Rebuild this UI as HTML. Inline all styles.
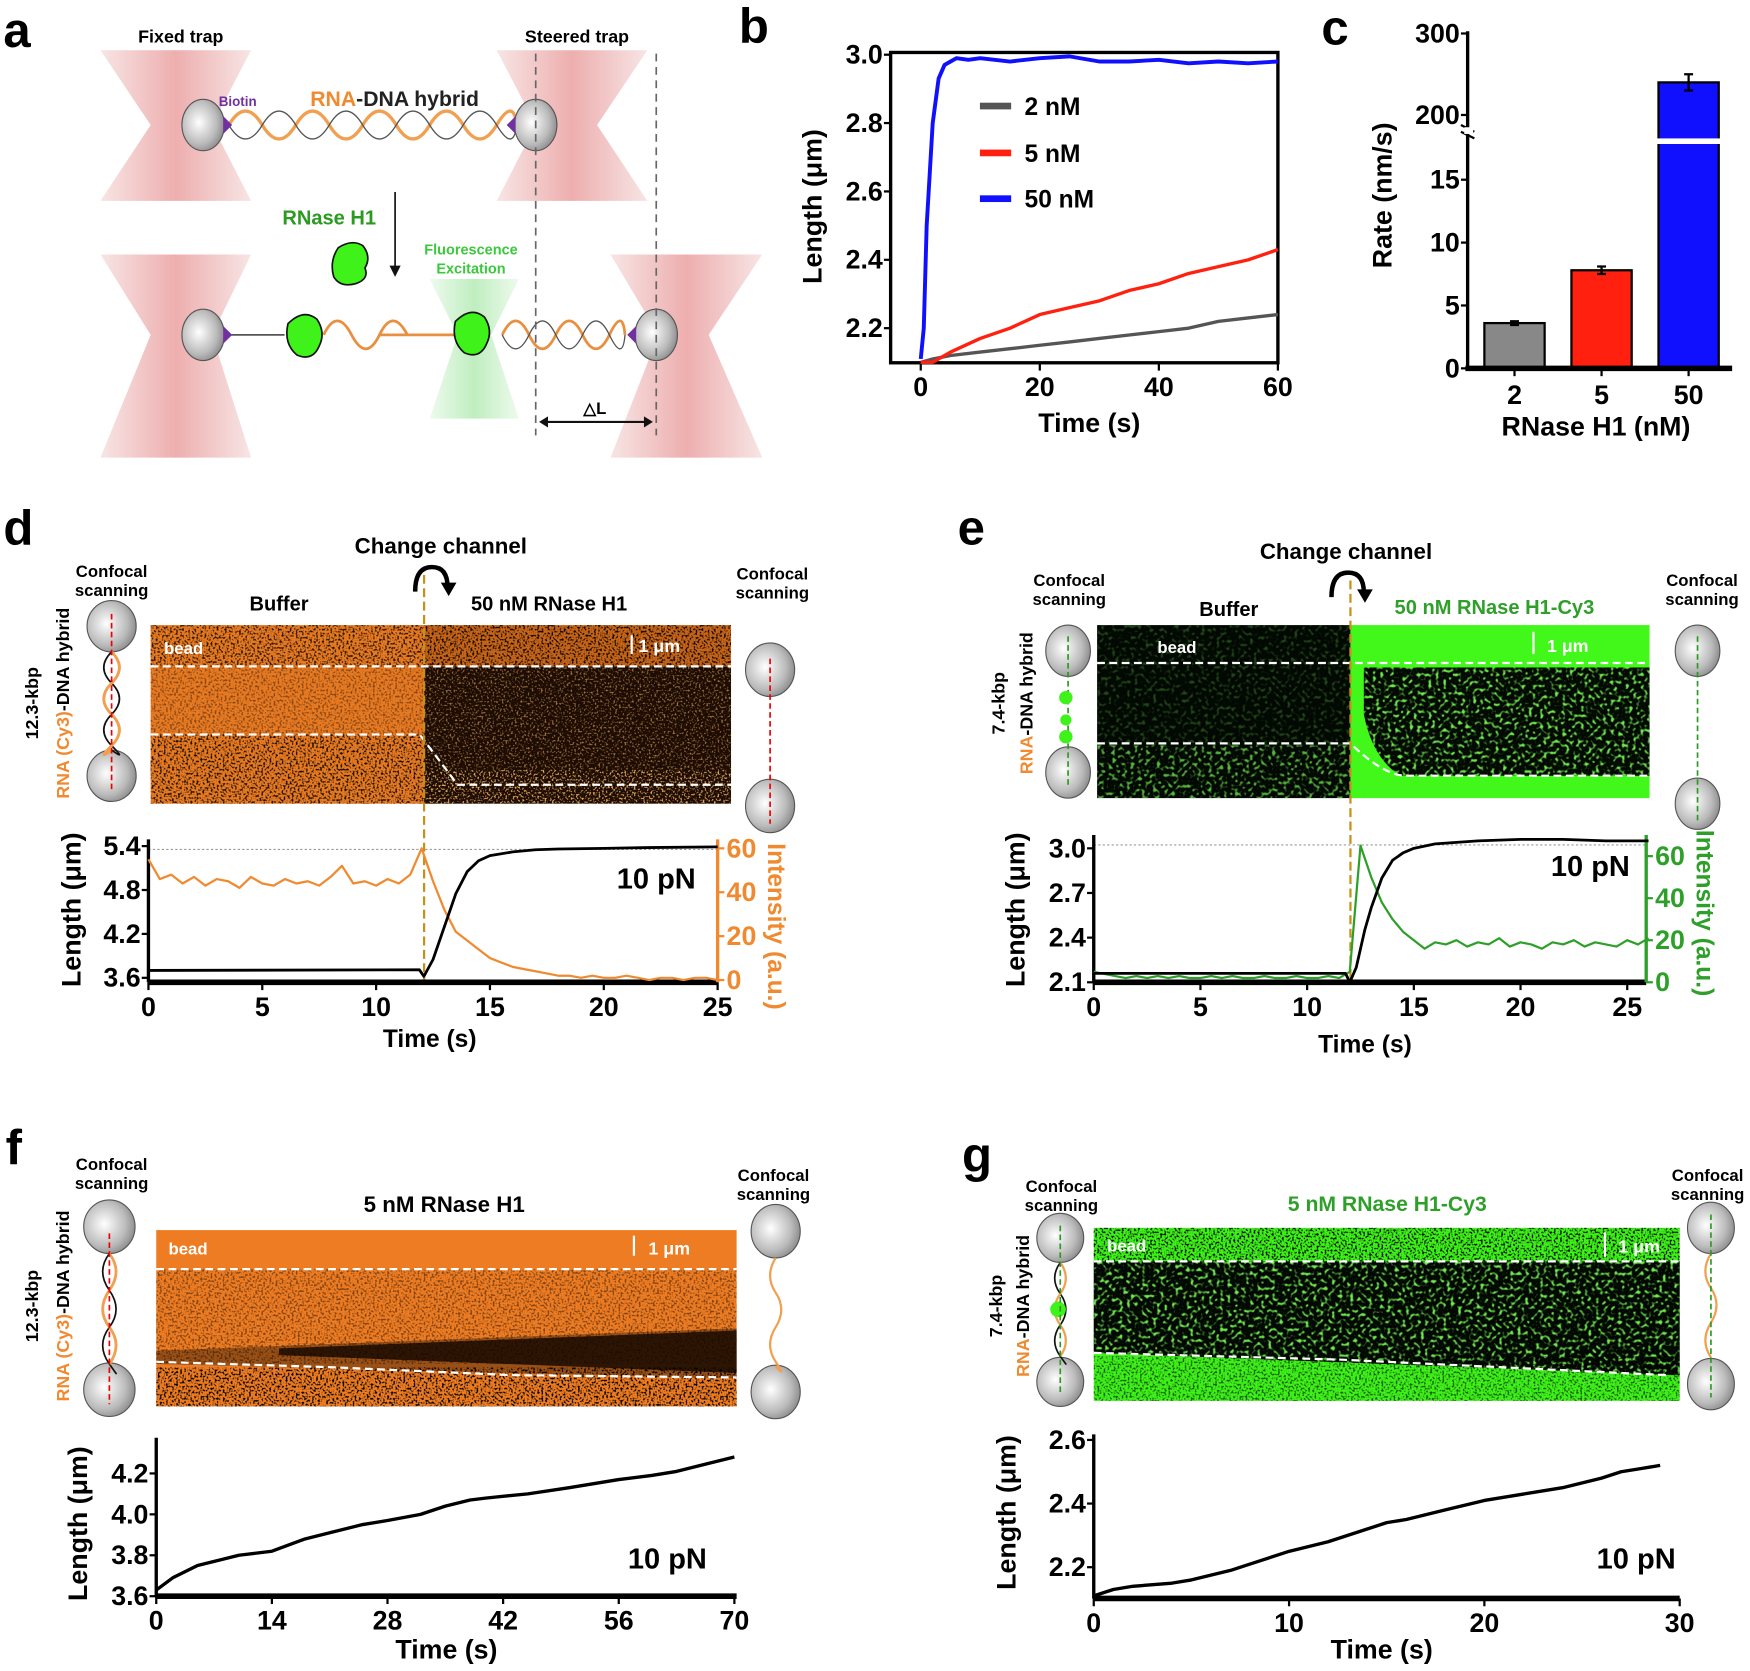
<!DOCTYPE html>
<html><head><meta charset="utf-8"><style>
html,body{margin:0;padding:0;background:#fff}
svg{display:block}
text{font-family:"Liberation Sans",sans-serif;font-weight:bold}
</style></head><body>
<svg id="fig" width="1750" height="1671" viewBox="0 0 1568 1497" preserveAspectRatio="none" xmlns="http://www.w3.org/2000/svg">
<defs>
<radialGradient id="bead" cx="0.4" cy="0.45" r="0.7"><stop offset="0" stop-color="#fff"/><stop offset="0.6" stop-color="#bbb"/><stop offset="1" stop-color="#777"/></radialGradient>
<linearGradient id="beam" x1="0" y1="0" x2="1" y2="0"><stop offset="0" stop-color="#f6dede"/><stop offset="0.5" stop-color="#e99a9a"/><stop offset="1" stop-color="#f6dede"/></linearGradient>
<linearGradient id="gbeam" x1="0" y1="0" x2="1" y2="0"><stop offset="0" stop-color="#eefaee"/><stop offset="0.5" stop-color="#bfeebf"/><stop offset="1" stop-color="#eefaee"/></linearGradient>
<filter id="blackSpeck" x="0" y="0" width="1" height="1"><feTurbulence type="fractalNoise" baseFrequency="0.55" numOctaves="1" seed="3"/><feColorMatrix values="0 0 0 0 0  0 0 0 0 0  0 0 0 0 0  5 0 0 0 -2.4"/><feComposite in2="SourceGraphic" operator="in"/></filter>
<filter id="orangeSpeck" x="0" y="0" width="1" height="1"><feTurbulence type="fractalNoise" baseFrequency="0.6" numOctaves="1" seed="7"/><feColorMatrix values="0 0 0 0 0.91  0 0 0 0 0.47  0 0 0 0 0.13  5 0 0 0 -2.6"/><feComposite in2="SourceGraphic" operator="in"/></filter>
<filter id="greenSpeck" x="0" y="0" width="1" height="1"><feTurbulence type="fractalNoise" baseFrequency="0.3" numOctaves="1" seed="5"/><feColorMatrix values="0 0 0 0 0.2  0 0 0 0 1  0 0 0 0 0.1  5 0 0 0 -2.6"/><feComposite in2="SourceGraphic" operator="in"/></filter>
</defs>

<g font-size="44">
<text x="3" y="42">a</text>
<text x="662" y="38">b</text>
<text x="1184" y="40">c</text>
<text x="3" y="488">d</text>
<text x="858" y="488">e</text>
<text x="5" y="1043">f</text>
<text x="862" y="1050">g</text>
</g>

<g>
<text x="162" y="38" font-size="16" text-anchor="middle">Fixed trap</text>
<text x="517" y="38" font-size="16" text-anchor="middle">Steered trap</text>
<path d="M90 45 H225 L190 112 L225 180 H90 L135 112 Z" fill="url(#beam)" opacity="0.8"/>
<path d="M445 45 H580 L535 112 L580 180 H445 L480 112 Z" fill="url(#beam)" opacity="0.8"/>
<path d="M90 228 H225 L190 300 L225 410 H90 L135 300 Z" fill="url(#beam)" opacity="0.8"/>
<path d="M547 228 H683 L635 300 L683 410 H547 L590 300 Z" fill="url(#beam)" opacity="0.8"/>
<path d="M385 250 H465 L440 300 L465 375 H385 L410 300 Z" fill="url(#gbeam)"/>
<path d="M205 112 q15 -25 30 0 t30 0 t30 0 t30 0 t30 0 t30 0 t30 0 t30 0 t18 0" fill="none" stroke="#f0a050" stroke-width="3"/>
<path d="M205 112 q15 25 30 0 t30 0 t30 0 t30 0 t30 0 t30 0 t30 0 t30 0 t18 0" fill="none" stroke="#555" stroke-width="1.2"/>
<ellipse cx="182" cy="112" rx="19" ry="23" fill="url(#bead)" stroke="#555"/>
<ellipse cx="480" cy="112" rx="19" ry="23" fill="url(#bead)" stroke="#555"/>
<path d="M200 104 l8 8 -8 8z M462 104 l-8 8 8 8z" fill="#7030a0"/>
<text x="213" y="95" font-size="12" fill="#7030a0" text-anchor="middle">Biotin</text>
<text x="278" y="95" font-size="19" fill="#f08a30">RNA<tspan fill="#222">-DNA hybrid</tspan></text>
<line x1="354" y1="172" x2="354" y2="245" stroke="#111" stroke-width="1.5"/>
<path d="M349 238 l5 10 5 -10z" fill="#111"/>
<text x="295" y="201" font-size="18" fill="#2a9a20" text-anchor="middle">RNase H1</text>
<path d="M303 222 q12 -8 22 -2 q8 10 2 20 q4 10 -8 14 q-14 4 -20 -6 q-4 -14 4 -26z" fill="#3ef21a" stroke="#111" stroke-width="1.5"/>
<text x="422" y="228" font-size="13" fill="#3cc83c" text-anchor="middle">Fluorescence</text>
<text x="422" y="245" font-size="13" fill="#3cc83c" text-anchor="middle">Excitation</text>
<path d="M205 300 h50" stroke="#555" stroke-width="1.5"/>
<path d="M290 300 q12 -25 25 0 t25 0 t25 0 M340 300 h70" fill="none" stroke="#e89040" stroke-width="2.5"/>
<path d="M450 300 q12 -25 24 0 t24 0 t24 0 t24 0 t14 0" fill="none" stroke="#e89040" stroke-width="2.5"/>
<path d="M450 300 q12 25 24 0 t24 0 t24 0 t24 0 t14 0" fill="none" stroke="#555" stroke-width="1.2"/>
<path d="M258 290 q14 -14 26 -4 q8 12 2 24 q-6 14 -20 8 q-12 -10 -8 -28z" fill="#3ef21a" stroke="#111" stroke-width="1.5"/>
<path d="M408 288 q14 -14 26 -4 q8 12 2 24 q-6 14 -20 8 q-12 -10 -8 -28z" fill="#3ef21a" stroke="#111" stroke-width="1.5"/>
<ellipse cx="182" cy="300" rx="19" ry="23" fill="url(#bead)" stroke="#555"/>
<ellipse cx="588" cy="300" rx="19" ry="23" fill="url(#bead)" stroke="#555"/>
<path d="M200 292 l8 8 -8 8z M570 292 l-8 8 8 8z" fill="#7030a0"/>
<line x1="480" y1="48" x2="480" y2="390" stroke="#666" stroke-width="1.5" stroke-dasharray="7,5"/>
<line x1="588" y1="48" x2="588" y2="390" stroke="#666" stroke-width="1.5" stroke-dasharray="7,5"/>
<line x1="486" y1="378" x2="582" y2="378" stroke="#111" stroke-width="2"/>
<path d="M483 378 l8 -5 v10z M585 378 l-8 -5 v10z" fill="#111"/>
<text x="533" y="371" font-size="15" font-weight="normal" text-anchor="middle">△L</text>
</g>

<g id="pb">
<rect x="798" y="47" width="347" height="278" fill="none" stroke="#000" stroke-width="3"/>
<text transform="translate(736,185) rotate(-90)" font-size="24" text-anchor="middle">Length (μm)</text>
<text x="976" y="387" font-size="24" text-anchor="middle">Time (s)</text>
</g>
<g id="pc">
<text transform="translate(1247,175) rotate(-90)" font-size="24" text-anchor="middle">Rate (nm/s)</text>
<text x="1430" y="390" font-size="24" text-anchor="middle">RNase H1 (nM)</text>
</g>

<g>
<text x="100" y="517" font-size="15" text-anchor="middle">Confocal</text>
<text x="100" y="534" font-size="15" text-anchor="middle">scanning</text>
<text x="692" y="519" font-size="15" text-anchor="middle">Confocal</text>
<text x="692" y="536" font-size="15" text-anchor="middle">scanning</text>
<text x="395" y="496" font-size="20" text-anchor="middle">Change channel</text>
<path d="M372 530 q0 -22 15 -22 q14 0 14 18" fill="none" stroke="#000" stroke-width="4"/>
<path d="M395 522 l7 12 7 -12z" fill="#000"/>
<text x="250" y="547" font-size="18" text-anchor="middle">Buffer</text>
<text x="492" y="547" font-size="18" text-anchor="middle">50 nM RNase H1</text>
<text transform="translate(34,630) rotate(-90)" font-size="16" text-anchor="middle">12.3-kbp</text>
<text transform="translate(62,630) rotate(-90)" font-size="16" text-anchor="middle"><tspan fill="#f08a30">RNA (Cy3)</tspan>-DNA hybrid</text>
<rect x="135" y="560" width="245" height="160" fill="#e87a22"/>
<rect x="135" y="560" width="245" height="37" fill="#000" filter="url(#blackSpeck)" opacity="0.8"/>
<rect x="135" y="597" width="245" height="61" fill="#000" filter="url(#blackSpeck)" opacity="0.4"/>
<rect x="135" y="658" width="245" height="62" fill="#000" filter="url(#blackSpeck)" opacity="0.85"/>
<rect x="380" y="560" width="275" height="37" fill="#c86518"/>
<rect x="380" y="560" width="275" height="37" fill="#000" filter="url(#blackSpeck)" opacity="0.9"/>
<rect x="380" y="597" width="275" height="123" fill="#1c0b02"/>
<rect x="380" y="597" width="275" height="123" filter="url(#orangeSpeck)" fill="#000" opacity="0.6"/>
<rect x="380" y="690" width="275" height="30" filter="url(#orangeSpeck)" fill="#000" opacity="0.8"/>
<line x1="135" y1="597" x2="655" y2="597" stroke="#fff" stroke-width="2" stroke-dasharray="7,4"/>
<path d="M135 658 H376 L410 703 H655" fill="none" stroke="#fff" stroke-width="2" stroke-dasharray="7,4"/>
<text x="147" y="586" font-size="15" fill="#fff">bead</text>
<line x1="566" y1="569" x2="566" y2="586" stroke="#fff" stroke-width="2"/>
<text x="572" y="584" font-size="16" fill="#fff">1 μm</text>
<g stroke="#555"><ellipse cx="100" cy="561" rx="22" ry="23" fill="url(#bead)"/><ellipse cx="100" cy="695" rx="22" ry="23" fill="url(#bead)"/><ellipse cx="690" cy="600" rx="22" ry="24" fill="url(#bead)"/><ellipse cx="690" cy="722" rx="22" ry="24" fill="url(#bead)"/></g>
<path d="M100 584 q-14 14 0 28 t0 28 t0 28 t0 4" fill="none" stroke="#111" stroke-width="1.5"/>
<path d="M100 584 q14 14 0 28 t0 28 t0 28 t0 4" fill="none" stroke="#f0a050" stroke-width="2.5"/>
<line x1="100" y1="550" x2="100" y2="710" stroke="#e00" stroke-width="1.5" stroke-dasharray="5,3"/>
<line x1="690" y1="590" x2="690" y2="738" stroke="#e00" stroke-width="1.5" stroke-dasharray="5,3"/>
<line x1="380" y1="515" x2="380" y2="880" stroke="#c8901a" stroke-width="2" stroke-dasharray="8,4"/>
</g>
<g id="pd">
<text transform="translate(72,815) rotate(-90)" font-size="24" text-anchor="middle">Length (μm)</text>
<text transform="translate(688,830) rotate(90)" font-size="22" fill="#f08a30" text-anchor="middle">Intensity (a.u.)</text>
<text x="385" y="938" font-size="22" text-anchor="middle">Time (s)</text>
<text x="588" y="796" font-size="26" text-anchor="middle">10 pN</text>
</g>

<g>
<text x="958" y="525" font-size="15" text-anchor="middle">Confocal</text>
<text x="958" y="542" font-size="15" text-anchor="middle">scanning</text>
<text x="1525" y="525" font-size="15" text-anchor="middle">Confocal</text>
<text x="1525" y="542" font-size="15" text-anchor="middle">scanning</text>
<text x="1206" y="501" font-size="20" text-anchor="middle">Change channel</text>
<path d="M1193 535 q0 -22 15 -22 q14 0 14 18" fill="none" stroke="#000" stroke-width="4"/>
<path d="M1216 528 l7 12 7 -12z" fill="#000"/>
<text x="1101" y="552" font-size="18" text-anchor="middle">Buffer</text>
<text x="1339" y="550" font-size="18" fill="#2ea02a" text-anchor="middle">50 nM RNase H1-Cy3</text>
<text transform="translate(900,630) rotate(-90)" font-size="16" text-anchor="middle">7.4-kbp</text>
<text transform="translate(925,630) rotate(-90)" font-size="16" text-anchor="middle"><tspan fill="#f08a30">RNA</tspan>-DNA hybrid</text>
<rect x="983" y="560" width="227" height="155" fill="#020802"/>
<rect x="983" y="560" width="227" height="155" fill="#000" filter="url(#greenSpeck)" opacity="0.25"/>
<rect x="983" y="668" width="227" height="47" fill="#000" filter="url(#greenSpeck)" opacity="0.6"/>
<rect x="1210" y="560" width="268" height="155" fill="#41f81a"/>
<path d="M1222 598 H1478 V695 H1255 Q1230 680 1222 640 Z" fill="#020a02"/>
<path d="M1222 598 H1478 V695 H1255 Q1230 680 1222 640 Z" fill="#000" filter="url(#greenSpeck)" opacity="0.9"/>
<line x1="983" y1="594" x2="1478" y2="594" stroke="#fff" stroke-width="2" stroke-dasharray="7,4"/>
<path d="M983 666 H1210 Q1240 695 1260 695 H1478" fill="none" stroke="#fff" stroke-width="2" stroke-dasharray="7,4"/>
<text x="1037" y="585" font-size="15" fill="#fff">bead</text>
<line x1="1374" y1="566" x2="1374" y2="586" stroke="#fff" stroke-width="2"/>
<text x="1386" y="584" font-size="16" fill="#fff">1 μm</text>
<g stroke="#555"><ellipse cx="957" cy="583" rx="20" ry="23" fill="url(#bead)"/><ellipse cx="957" cy="692" rx="20" ry="23" fill="url(#bead)"/><ellipse cx="1521" cy="583" rx="20" ry="23" fill="url(#bead)"/><ellipse cx="1521" cy="720" rx="20" ry="23" fill="url(#bead)"/></g>
<line x1="957" y1="570" x2="957" y2="705" stroke="#2a9a20" stroke-width="1.5" stroke-dasharray="5,3"/>
<line x1="1521" y1="570" x2="1521" y2="735" stroke="#2a9a20" stroke-width="1.5" stroke-dasharray="5,3"/>
<circle cx="955" cy="625" r="6" fill="#3ef21a"/><circle cx="955" cy="660" r="6" fill="#3ef21a"/><circle cx="955" cy="645" r="5" fill="#3ef21a"/>
<line x1="1210" y1="520" x2="1210" y2="880" stroke="#c8901a" stroke-width="2" stroke-dasharray="8,4"/>
</g>
<g id="pe">
<text transform="translate(918,815) rotate(-90)" font-size="24" text-anchor="middle">Length (μm)</text>
<text transform="translate(1520,818) rotate(90)" font-size="22" fill="#2ea02a" text-anchor="middle">Intensity (a.u.)</text>
<text x="1223" y="943" font-size="22" text-anchor="middle">Time (s)</text>
<text x="1425" y="785" font-size="26" text-anchor="middle">10 pN</text>
</g>

<g>
<text x="100" y="1048" font-size="15" text-anchor="middle">Confocal</text>
<text x="100" y="1065" font-size="15" text-anchor="middle">scanning</text>
<text x="693" y="1058" font-size="15" text-anchor="middle">Confocal</text>
<text x="693" y="1075" font-size="15" text-anchor="middle">scanning</text>
<text x="398" y="1086" font-size="20" text-anchor="middle">5 nM RNase H1</text>
<text transform="translate(34,1170) rotate(-90)" font-size="16" text-anchor="middle">12.3-kbp</text>
<text transform="translate(62,1170) rotate(-90)" font-size="16" text-anchor="middle"><tspan fill="#f08a30">RNA (Cy3)</tspan>-DNA hybrid</text>
<rect x="140" y="1102" width="520" height="158" fill="#ee7c22"/>
<rect x="140" y="1137" width="520" height="85" fill="#000" filter="url(#blackSpeck)" opacity="0.45"/>
<path d="M140 1210 L660 1190 V1235 L140 1222Z" fill="#000" opacity="0.35"/>
<path d="M250 1208 L660 1192 V1230 L250 1214Z" fill="#120600" opacity="0.8"/>
<rect x="140" y="1225" width="520" height="35" fill="#000" filter="url(#blackSpeck)" opacity="0.95"/>
<line x1="140" y1="1137" x2="660" y2="1137" stroke="#fff" stroke-width="2" stroke-dasharray="7,4"/>
<path d="M140 1220 L300 1225 L460 1232 L660 1234" fill="none" stroke="#fff" stroke-width="2" stroke-dasharray="7,4"/>
<text x="151" y="1124" font-size="15" fill="#fff">bead</text>
<line x1="568" y1="1107" x2="568" y2="1125" stroke="#fff" stroke-width="2"/>
<text x="581" y="1124" font-size="16" fill="#fff">1 μm</text>
<g stroke="#555"><ellipse cx="98" cy="1099" rx="23" ry="24" fill="url(#bead)"/><ellipse cx="98" cy="1245" rx="23" ry="24" fill="url(#bead)"/><ellipse cx="695" cy="1103" rx="22" ry="24" fill="url(#bead)"/><ellipse cx="695" cy="1247" rx="22" ry="24" fill="url(#bead)"/></g>
<path d="M98 1123 q-12 16 0 33 t0 33 t0 33 t0 0" fill="none" stroke="#111" stroke-width="1.5"/>
<path d="M98 1123 q12 16 0 33 t0 33 t0 33" fill="none" stroke="#f0a050" stroke-width="2.5"/>
<path d="M695 1127 q-10 16 0 31 t0 31 t0 31 t0 4" fill="none" stroke="#f0a050" stroke-width="2"/>
<line x1="98" y1="1105" x2="98" y2="1258" stroke="#e00" stroke-width="1.5" stroke-dasharray="5,3"/>
</g>
<g id="pf">
<text transform="translate(78,1365) rotate(-90)" font-size="24" text-anchor="middle">Length (μm)</text>
<text x="400" y="1486" font-size="24" text-anchor="middle">Time (s)</text>
<text x="598" y="1405" font-size="26" text-anchor="middle">10 pN</text>
</g>

<g>
<text x="951" y="1068" font-size="15" text-anchor="middle">Confocal</text>
<text x="951" y="1085" font-size="15" text-anchor="middle">scanning</text>
<text x="1530" y="1058" font-size="15" text-anchor="middle">Confocal</text>
<text x="1530" y="1075" font-size="15" text-anchor="middle">scanning</text>
<text x="1243" y="1085" font-size="19" fill="#2ea02a" text-anchor="middle">5 nM RNase H1-Cy3</text>
<text transform="translate(898,1170) rotate(-90)" font-size="16" text-anchor="middle">7.4-kbp</text>
<text transform="translate(922,1170) rotate(-90)" font-size="16" text-anchor="middle"><tspan fill="#f08a30">RNA</tspan>-DNA hybrid</text>
<rect x="980" y="1100" width="525" height="155" fill="#3ef21a"/>
<rect x="980" y="1100" width="525" height="30" fill="#000" filter="url(#blackSpeck)" opacity="0.9"/>
<path d="M980 1130 H1505 V1232 L980 1212Z" fill="#020802"/>
<path d="M980 1130 H1505 V1232 L980 1212Z" fill="#000" filter="url(#greenSpeck)" opacity="0.9"/>
<rect x="980" y="1215" width="525" height="40" fill="#000" filter="url(#blackSpeck)" opacity="0.6"/>
<line x1="980" y1="1130" x2="1505" y2="1130" stroke="#fff" stroke-width="2" stroke-dasharray="7,4"/>
<path d="M980 1212 L1200 1218 L1495 1232" fill="none" stroke="#fff" stroke-width="2" stroke-dasharray="7,4"/>
<text x="992" y="1121" font-size="15" fill="#fff">bead</text>
<line x1="1438" y1="1104" x2="1438" y2="1126" stroke="#fff" stroke-width="2"/>
<text x="1450" y="1122" font-size="16" fill="#fff">1 μm</text>
<g stroke="#555"><ellipse cx="950" cy="1109" rx="21" ry="22" fill="url(#bead)"/><ellipse cx="950" cy="1238" rx="21" ry="22" fill="url(#bead)"/><ellipse cx="1533" cy="1100" rx="21" ry="23" fill="url(#bead)"/><ellipse cx="1533" cy="1240" rx="21" ry="23" fill="url(#bead)"/></g>
<path d="M950 1131 q-10 14 0 28 t0 28 t0 28 t0 0" fill="none" stroke="#111" stroke-width="1.5"/>
<path d="M950 1131 q10 14 0 28 t0 28 t0 28" fill="none" stroke="#f0a050" stroke-width="2"/>
<path d="M1533 1123 q-10 16 0 31 t0 31 t0 31" fill="none" stroke="#f0a050" stroke-width="2"/>
<circle cx="948" cy="1173" r="7" fill="#3ef21a"/>
<line x1="950" y1="1098" x2="950" y2="1250" stroke="#2a9a20" stroke-width="1.5" stroke-dasharray="5,3"/>
<line x1="1533" y1="1088" x2="1533" y2="1252" stroke="#2a9a20" stroke-width="1.5" stroke-dasharray="5,3"/>
</g>
<g id="pg">
<text transform="translate(910,1355) rotate(-90)" font-size="24" text-anchor="middle">Length (μm)</text>
<text x="1238" y="1486" font-size="24" text-anchor="middle">Time (s)</text>
<text x="1466" y="1405" font-size="26" text-anchor="middle">10 pN</text>
</g>
</svg>
<script>
// ---- Panel b data ----
const bBlueT=[0,0.5,1,2,3,4,5,6,8,10,15,20,25,30,35,40,45,50,55,60];
const bBlueL=[2.11,2.2,2.5,2.8,2.93,2.97,2.98,2.99,2.985,2.99,2.98,2.99,2.995,2.98,2.98,2.985,2.975,2.98,2.975,2.98];
const bT=[0,2,5,10,15,20,25,30,35,40,45,50,55,60];
const bRedL=[2.1,2.1,2.13,2.17,2.2,2.24,2.26,2.28,2.31,2.33,2.36,2.38,2.4,2.43];
const bGrayL=[2.1,2.11,2.12,2.13,2.14,2.15,2.16,2.17,2.18,2.19,2.2,2.22,2.23,2.24];
const bYTicks=[3.0,2.8,2.6,2.4,2.2];
const bXTicks=[0,20,40,60];
// ---- Panel c data ----
const cCats=["2","5","50"];
const cRates=[3.6,7.8,240];
const cErr=[0.15,0.3,10];
const cYTicksLow=[0,5,10,15];
const cYTicksHigh=[200,300];
// ---- Panel d data ----
const dLenT=[0,11.9,12.1,12.5,13,13.5,14,14.5,15,16,17,18,20,22,25];
const dLen=[3.7,3.71,3.62,3.85,4.3,4.75,5.05,5.2,5.27,5.32,5.35,5.36,5.37,5.38,5.39];
const dInt=[55,46,48,44,47,43,46,45,42,47,44,43,46,44,45,43,47,52,44,45,43,46,44,48,60,45,32,22,18,14,10,8,6,5,4,3,2,2,1,2,1,1,2,1,0,1,1,0,1,1,0];
const dYTicks=[5.4,4.8,4.2,3.6];
const dY2Ticks=[60,40,20,0];
const dXTicks=[0,5,10,15,20,25];
// ---- Panel e data ----
const eLenT=[0,11.8,12,12.3,12.7,13,13.5,14,14.5,15,16,18,20,22,24,26];
const eLen=[2.16,2.16,2.1,2.2,2.45,2.6,2.8,2.92,2.97,3.0,3.03,3.05,3.06,3.06,3.05,3.05];
const eInt=[5,4,3,2,3,2,3,2,3,2,2,3,2,3,2,2,3,2,2,3,2,2,3,2,5,65,50,38,30,24,20,16,19,18,20,17,19,18,21,17,19,18,16,19,18,20,17,19,18,17,20,18,21];
const eYTicks=[3.0,2.7,2.4,2.1];
const eY2Ticks=[60,40,20,0];
const eXTicks=[0,5,10,15,20,25];
// ---- Panel f data ----
const fT=[0,2,5,8,10,12,14,16,18,21,25,28,32,35,38,40,45,50,56,60,63,67,70];
const fLen=[3.63,3.69,3.75,3.78,3.8,3.81,3.82,3.85,3.88,3.91,3.95,3.97,4.0,4.04,4.07,4.08,4.1,4.13,4.17,4.19,4.21,4.25,4.28];
const fYTicks=[4.2,4.0,3.8,3.6];
const fXTicks=[0,14,28,42,56,70];
// ---- Panel g data ----
const gT=[0,1,2,4,5,7,8,10,12,13,15,16,18,20,22,24,26,27,28,29];
const gLen=[2.11,2.13,2.14,2.15,2.16,2.19,2.21,2.25,2.28,2.3,2.34,2.35,2.38,2.41,2.43,2.45,2.48,2.5,2.51,2.52];
const gYTicks=[2.6,2.4,2.2];
const gXTicks=[0,10,20,30];

const NS="http://www.w3.org/2000/svg";
function mk(parent,tag,attrs){const e=document.createElementNS(NS,tag);for(const k in attrs)e.setAttribute(k,attrs[k]);parent.appendChild(e);return e;}
function lin(d0,d1,r0,r1){return v=>r0+(v-d0)*(r1-r0)/(d1-d0);}
function pathD(xs,ys,sx,sy){return xs.map((x,i)=>(i?"L":"M")+sx(x).toFixed(1)+" "+sy(ys[i]).toFixed(1)).join(" ");}
function fmt(v,ticks){return ticks.some(q=>q%1!==0)?v.toFixed(1):String(v);}
function yTicks(g,ticks,sy,x,fs,color,right){
  ticks.forEach(v=>{const y=sy(v);
    const l=mk(g,"line",{x1:x,x2:right?x+6:x-6,y1:y,y2:y,stroke:color,"stroke-width":2});
    
    
    const t=mk(g,"text",{x:right?x+8:x-7,y:y+8,"font-size":fs,fill:color,"text-anchor":right?"start":"end"});
    t.textContent=fmt(v,ticks);
    
    });
}
function xTicks(g,ticks,sx,y,fs){
  ticks.forEach(v=>{const x=sx(v);
    const l=mk(g,"line",{x1:x,x2:x,y1:y,y2:y+7,stroke:"#000","stroke-width":2});
    
    
    const t=mk(g,"text",{x:x,y:y+30,"font-size":fs,"text-anchor":"middle"});
    t.textContent=v;
    
    });
}
function line(g,xs,ys,sx,sy,color,w,name){
  const p=mk(g,"path",{d:pathD(xs,ys,sx,sy),fill:"none",stroke:color,"stroke-width":w,"stroke-linejoin":"round"});
  
  
  return p;
}
function axes(g,x0,x1,y0,y1){
  mk(g,"line",{x1:x0,x2:x0,y1:y0,y2:y1,stroke:"#000","stroke-width":3});
  const b=mk(g,"line",{x1:x0,x2:x1,y1:y1,y2:y1,stroke:"#000","stroke-width":5});
  
  
}

{const g=document.getElementById('pb');
 const sx=lin(0,60,825,1145), sy=lin(3.0,2.2,49,294);
 yTicks(g,bYTicks,sy,798,24,"#000");
 xTicks(g,bXTicks,sx,325,24);
 line(g,bT,bGrayL,sx,sy,"#555",3,"series-2nM");
 line(g,bT,bRedL,sx,sy,"#ff2010",3,"series-5nM");
 line(g,bBlueT,bBlueL,sx,sy,"#1010ff",3.5,"series-50nM");
 const leg=[["2 nM","#555",103],["5 nM","#ff2010",145],["50 nM","#1010ff",186]];
 leg.forEach(([lab,c,y])=>{const r=mk(g,"rect",{x:878,y:y-11,width:28,height:6,fill:c});
   
   
   const t=mk(g,"text",{x:918,y:y,"font-size":22});t.textContent=lab;
   
   });
}
{const g=document.getElementById('pc');
 const syLow=lin(0,15,330,161), syHigh=lin(200,300,103,30);
 const sy=v=>v<=18?syLow(v):syHigh(v);
 const colors=["#888","#ff2010","#1010ff"], xs=[1357,1435,1513];
 cRates.forEach((v,i)=>{const r=mk(g,"rect",{x:xs[i]-27,y:sy(v),width:54,height:330-sy(v),fill:colors[i],stroke:"#000","stroke-width":2});
   
   
   const e=mk(g,"path",{d:`M${xs[i]} ${sy(v+cErr[i])} V${sy(v-cErr[i])} M${xs[i]-4} ${sy(v+cErr[i])} h8 M${xs[i]-4} ${sy(v-cErr[i])} h8`,stroke:"#000","stroke-width":2,fill:"none"});
   
   
   const t=mk(g,"text",{x:xs[i],y:362,"font-size":24,"text-anchor":"middle"});t.textContent=cCats[i];
   
   
   mk(g,"line",{x1:xs[i],x2:xs[i],y1:330,y2:337,stroke:"#000","stroke-width":2});
 });
 mk(g,"rect",{x:1484,y:124,width:58,height:5,fill:"#fff"});
 mk(g,"line",{x1:1315,x2:1315,y1:28,y2:330,stroke:"#000","stroke-width":3});
 mk(g,"line",{x1:1313,x2:1552,y1:330,y2:330,stroke:"#000","stroke-width":5});
 mk(g,"path",{d:"M1309 112 l12 6 M1309 118 l12 6",stroke:"#000","stroke-width":2});
 mk(g,"rect",{x:1312,y:114,width:8,height:6,fill:"#fff"});
 yTicks(g,cYTicksLow,syLow,1315,24,"#000");
 yTicks(g,cYTicksHigh,syHigh,1315,24,"#000");
}
{const g=document.getElementById('pd');
 const sx=lin(0,25,133,643), sy=lin(5.4,3.6,758,876), sy2=lin(60,0,760,878);
 mk(g,"line",{x1:133,x2:643,y1:761,y2:761,stroke:"#999","stroke-width":1,"stroke-dasharray":"2,2"});
 axes(g,133,643,752,880);
 mk(g,"line",{x1:643,x2:643,y1:752,y2:880,stroke:"#f08a30","stroke-width":3});
 yTicks(g,dYTicks,sy,133,24,"#000");
 yTicks(g,dY2Ticks,sy2,643,24,"#f08a30",true);
 xTicks(g,dXTicks,sx,880,24);
 const it=dInt.map((_,i)=>i*0.5);
 line(g,it,dInt,sx,sy2,"#f08a30",2,"intensity-series-d");
 line(g,dLenT,dLen,sx,sy,"#000",2.5,"length-series-d");
}
{const g=document.getElementById('pe');
 const sx=lin(0,25,980,1458), sy=lin(3.0,2.1,760,880), sy2=lin(60,0,767,880);
 mk(g,"line",{x1:980,x2:1475,y1:757,y2:757,stroke:"#999","stroke-width":1,"stroke-dasharray":"2,2"});
 axes(g,980,1475,748,880);
 mk(g,"line",{x1:1475,x2:1475,y1:748,y2:880,stroke:"#2ea02a","stroke-width":3});
 yTicks(g,eYTicks,sy,980,24,"#000");
 yTicks(g,eY2Ticks,sy2,1475,24,"#2ea02a",true);
 xTicks(g,eXTicks,sx,880,24);
 const it=eInt.map((_,i)=>i*0.5);
 line(g,it,eInt,sx,sy2,"#2ea02a",2,"intensity-series-e");
 line(g,eLenT,eLen,sx,sy,"#000",2.5,"length-series-e");
}
{const g=document.getElementById('pf');
 const sx=lin(0,70,140,658), sy=lin(4.2,3.6,1320,1430);
 axes(g,140,660,1288,1430);
 yTicks(g,fYTicks,sy,140,24,"#000");
 xTicks(g,fXTicks,sx,1430,24);
 line(g,fT,fLen,sx,sy,"#000",3,"length-series-f");
}
{const g=document.getElementById('pg');
 const sx=lin(0,30,980,1505), sy=lin(2.6,2.2,1290,1404);
 axes(g,980,1505,1285,1432);
 yTicks(g,gYTicks,sy,980,24,"#000");
 xTicks(g,gXTicks,sx,1432,24);
 line(g,gT,gLen,sx,sy,"#000",3,"length-series-g");
}
</script>
</body></html>
